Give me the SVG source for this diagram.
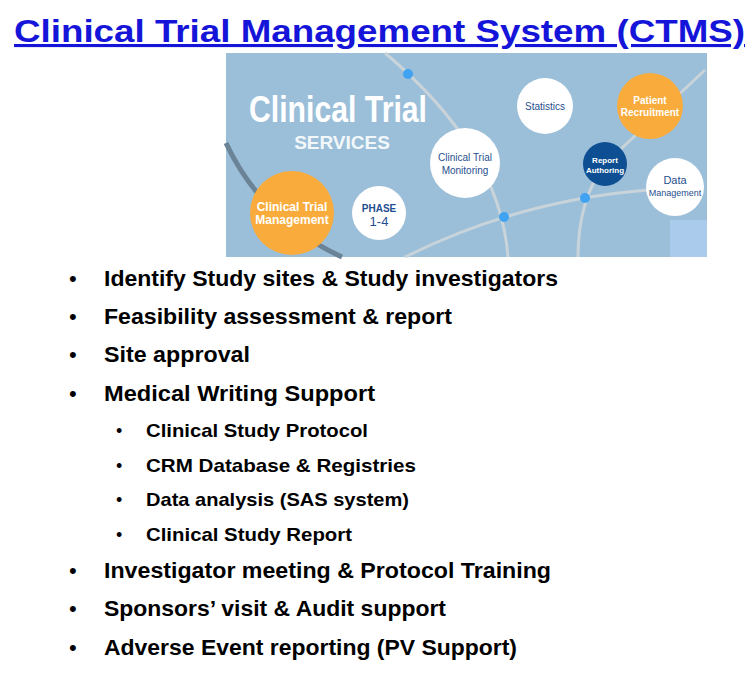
<svg xmlns="http://www.w3.org/2000/svg" width="755" height="695" viewBox="0 0 755 695">
<style>
.t{font-family:"Liberation Sans",Arial,sans-serif;font-weight:bold;fill:#000}
.b{font-size:22px}.s{font-size:19px}
.w{font-family:"Liberation Sans Narrow","Liberation Sans",sans-serif;font-weight:bold;fill:#fff;text-anchor:middle}
.n{font-family:"Liberation Sans",sans-serif;fill:#1f4f8f;text-anchor:middle}
</style>
<rect width="755" height="695" fill="#fff"/>
<text x="14" y="42" font-family="Liberation Sans,sans-serif" font-weight="bold" font-size="31" fill="#1515d9" textLength="731" lengthAdjust="spacingAndGlyphs" text-decoration="underline">Clinical Trial Management System (CTMS)</text>
<g id="banner">
<rect x="226" y="53" width="481" height="204" fill="#9cbfd9"/>
<rect x="670" y="220" width="37" height="37" fill="#aacbec"/>
<path d="M226,143 Q262,220 342,257" stroke="#6b8396" stroke-width="5" fill="none"/>
<path d="M385,53 Q500,150 508,257" stroke="#c8d3da" stroke-width="3" fill="none"/>
<path d="M405,257 Q520,200 648,190" stroke="#c8d3da" stroke-width="3" fill="none"/>
<path d="M578,257 Q578,200 605,164 L705,70" stroke="#c8d3da" stroke-width="3" fill="none"/>
<circle cx="408" cy="74" r="5" fill="#3fa3f2"/>
<circle cx="504" cy="217" r="5" fill="#3fa3f2"/>
<circle cx="585" cy="198" r="5" fill="#3fa3f2"/>
<text x="338" y="122" class="w" font-size="36" textLength="178" lengthAdjust="spacingAndGlyphs">Clinical Trial</text>
<text x="342" y="149" class="w" font-size="19" fill-opacity="0.9">SERVICES</text>
<circle cx="292" cy="213" r="42" fill="#f9ac3b"/>
<text x="292" y="211" class="w" font-size="12">Clinical Trial</text>
<text x="292" y="224" class="w" font-size="12">Management</text>
<circle cx="379" cy="213" r="27" fill="#fff"/>
<text x="379" y="212" class="n" font-weight="bold" font-size="10" fill="#1d3f80">PHASE</text>
<text x="379" y="226" class="n" font-size="13" fill="#1d3f80">1-4</text>
<circle cx="465" cy="163" r="35" fill="#fff"/>
<text x="465" y="161" class="n" font-size="10">Clinical Trial</text>
<text x="465" y="174" class="n" font-size="10">Monitoring</text>
<circle cx="545" cy="106" r="28" fill="#fff"/>
<text x="545" y="110" class="n" font-size="10">Statistics</text>
<circle cx="650" cy="106" r="33" fill="#f9ac3b"/>
<text x="650" y="104" class="w" font-size="10">Patient</text>
<text x="650" y="116" class="w" font-size="10">Recruitment</text>
<circle cx="605" cy="164" r="22" fill="#0d4f92"/>
<text x="605" y="163" class="w" font-weight="normal" font-size="8">Report</text>
<text x="605" y="173" class="w" font-weight="normal" font-size="8">Authoring</text>
<circle cx="675" cy="187" r="29" fill="#fff"/>
<text x="675" y="184" class="n" font-size="11">Data</text>
<text x="675" y="196" class="n" font-size="9">Management</text>
</g>
<g id="list">
<g font-size="22" font-family="Liberation Sans,sans-serif">
<text x="69" y="286">•</text><text x="69" y="324">•</text><text x="69" y="362">•</text><text x="69" y="401">•</text>
<text x="69" y="578">•</text><text x="69" y="616">•</text><text x="69" y="655">•</text>
</g>
<g font-size="18" font-family="Liberation Sans,sans-serif">
<text x="116" y="437">•</text><text x="116" y="472">•</text><text x="116" y="506">•</text><text x="116" y="541">•</text>
</g>
<text class="t b" x="104" y="286" textLength="454" lengthAdjust="spacingAndGlyphs">Identify Study sites &amp; Study investigators</text>
<text class="t b" x="104" y="324" textLength="348" lengthAdjust="spacingAndGlyphs">Feasibility assessment &amp; report</text>
<text class="t b" x="104" y="362" textLength="146" lengthAdjust="spacingAndGlyphs">Site approval</text>
<text class="t b" x="104" y="401" textLength="271" lengthAdjust="spacingAndGlyphs">Medical Writing Support</text>
<text class="t s" x="146" y="437" textLength="222" lengthAdjust="spacingAndGlyphs">Clinical Study Protocol</text>
<text class="t s" x="146" y="472" textLength="270" lengthAdjust="spacingAndGlyphs">CRM Database &amp; Registries</text>
<text class="t s" x="146" y="506" textLength="263" lengthAdjust="spacingAndGlyphs">Data analysis (SAS system)</text>
<text class="t s" x="146" y="541" textLength="206" lengthAdjust="spacingAndGlyphs">Clinical Study Report</text>
<text class="t b" x="104" y="578" textLength="447" lengthAdjust="spacingAndGlyphs">Investigator meeting &amp; Protocol Training</text>
<text class="t b" x="104" y="616" textLength="342" lengthAdjust="spacingAndGlyphs">Sponsors’ visit &amp; Audit support</text>
<text class="t b" x="104" y="655" textLength="413" lengthAdjust="spacingAndGlyphs">Adverse Event reporting (PV Support)</text>
</g>
</svg>
